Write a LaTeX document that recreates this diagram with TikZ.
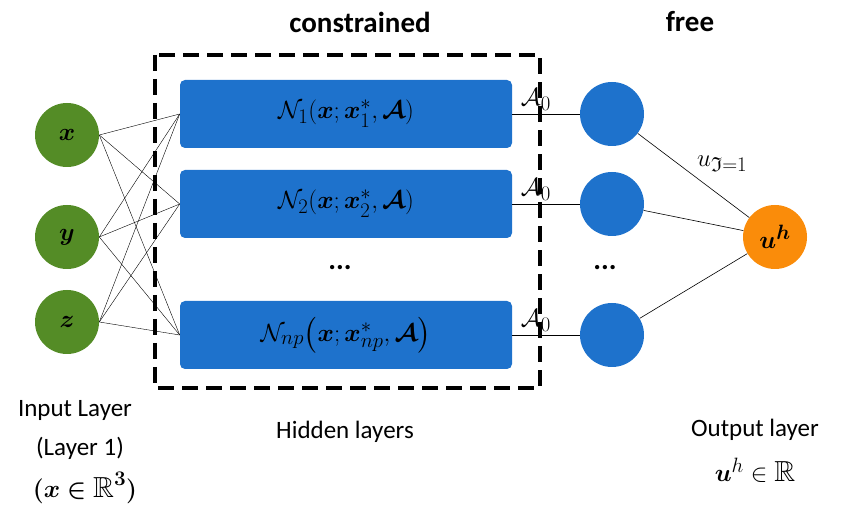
\documentclass[tikz,border=0pt]{standalone}
\usepackage{amsmath,amssymb,bm}
\usepackage{fontspec}
\setmainfont{Carlito}
\usetikzlibrary{positioning}
\definecolor{ingreen}{RGB}{84,140,38}
\definecolor{hidblue}{RGB}{30,114,204}
\definecolor{outorange}{RGB}{250,140,10}
\begin{document}
\begin{tikzpicture}[x=1pt,y=1pt,semithick,font=\fontsize{25}{30}\selectfont]
  \tikzstyle{inp}=[circle,fill=ingreen,minimum size=64pt,inner sep=0pt,font=\fontsize{32}{36}\selectfont]
  \tikzstyle{hid}=[rounded corners=5pt,fill=hidblue,minimum width=332pt,minimum height=68pt,font=\fontsize{30}{34}\selectfont]
  \tikzstyle{act}=[circle,fill=hidblue,minimum size=64pt,inner sep=0pt]
  \tikzstyle{outp}=[circle,fill=outorange,minimum size=64pt,inner sep=0pt,font=\fontsize{32}{36}\selectfont]
  \tikzstyle{lbl}=[font=\fontsize{29}{34}\selectfont]
  \useasboundingbox (0,0) rectangle (850,518);

  \node[inp] (X) at (67,383) {$\bm{x}$};
  \node[inp] (Y) at (67,281) {$\bm{y}$};
  \node[inp] (Z) at (67,196) {$\bm{z}$};

  \node[hid] (N1) at (346,404) {$\mathcal{N}_1(\bm{x};\bm{x}_1^*,\bm{\mathcal{A}})$};
  \node[hid] (N2) at (346,314) {$\mathcal{N}_2(\bm{x};\bm{x}_2^*,\bm{\mathcal{A}})$};
  \node[hid] (N3) at (346,183) {$\mathcal{N}_{np}\big(\bm{x};\bm{x}_{np}^*,\bm{\mathcal{A}}\big)$};
  \node[lbl] at (340,250) {\textbf{...}};

  \node[act] (A1) at (612,404) {};
  \node[act] (A2) at (612,314) {};
  \node[act] (A3) at (612,183) {};
  \node[lbl] at (605,250) {\textbf{...}};

  \node[outp] (U) at (775,281) {$\bm{u}^{\bm{h}}$};

  \draw[dash pattern=on 16pt off 8pt,line width=3.5pt] (155,463) rectangle (540,130);

  \foreach \i in {X,Y,Z}
    \foreach \j in {N1,N2,N3}
      \draw[thin] (\i.east) -- (\j.west);

  \draw (N1.east) -- node[lbl,above,pos=0.35] {$\mathcal{A}_0$} (A1);
  \draw (N2.east) -- node[lbl,above,pos=0.35] {$\mathcal{A}_0$} (A2);
  \draw (N3.east) -- node[lbl,above,pos=0.35] {$\mathcal{A}_0$} (A3);
  \draw (A1) -- node[lbl,above right] {$u_{\mathfrak{I}=1}$} (U);
  \draw (A2) -- (U);
  \draw (A3) -- (U);

  \node[lbl] at (360,496) {\textbf{constrained}};
  \node[lbl] at (690,496) {\textbf{free}};
  \node at (75,108) {Input Layer};
  \node at (80,70) {(Layer 1)};
  \node[lbl] at (85,30) {$\bm{(x\in\mathbb{R}^3)}$};
  \node at (345,86) {Hidden layers};
  \node at (755,88) {Output layer};
  \node[lbl] at (755,48) {$\bm{u}^h\in\mathbb{R}$};
\end{tikzpicture}
\end{document}
